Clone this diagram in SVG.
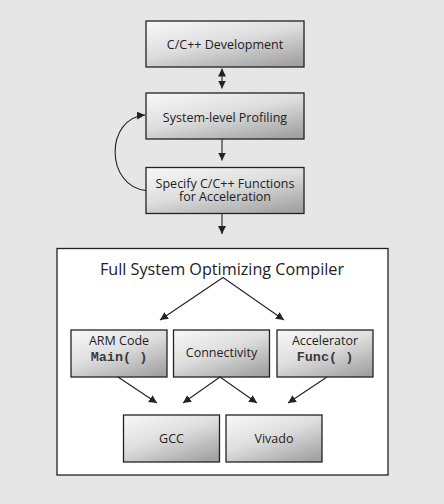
<svg xmlns="http://www.w3.org/2000/svg" width="444" height="504" viewBox="0 0 444 504">
<defs>
<linearGradient id="g" x1="0.15" y1="0" x2="0.85" y2="1">
<stop offset="0" stop-color="#f5f5f5"/>
<stop offset="0.45" stop-color="#dedede"/>
<stop offset="1" stop-color="#a2a2a2"/>
</linearGradient>
<marker id="ah" viewBox="0 0 10 10" refX="10" refY="5" markerWidth="8" markerHeight="8" markerUnits="userSpaceOnUse" orient="auto-start-reverse">
<path d="M0,0 L10,5 L0,10 z" fill="#222"/>
</marker>
</defs>
<style>
.box{fill:url(#g);stroke:#222;stroke-width:1.3}
.t{font-family:"Open Sans","Noto Sans",sans-serif;font-size:12.5px;fill:#222;text-anchor:middle}
.m{font-family:"Liberation Mono",monospace;font-size:13.5px;font-weight:bold;fill:#3a3a3a;text-anchor:middle}
.c{stroke:#222;stroke-width:1.1;fill:none;marker-end:url(#ah)}
</style>
<rect x="0" y="0" width="444" height="504" fill="#e6e6e6"/>
<g id="compiler">
<rect x="57" y="248.5" width="331" height="226.5" fill="#ffffff" stroke="#222" stroke-width="1.3"/>
<text class="t" x="222" y="275" style="font-size:16.2px">Full System Optimizing Compiler</text>
</g>
<g id="dev">
<rect class="box" x="146" y="21" width="158" height="46"/>
<text class="t" x="225" y="49">C/C++ Development</text>
</g>
<g id="profiling">
<rect class="box" x="146" y="93" width="158" height="46"/>
<text class="t" x="225" y="121.5">System-level Profiling</text>
</g>
<g id="specify">
<rect class="box" x="146" y="167.5" width="158" height="46"/>
<text class="t" x="225" y="188">Specify C/C++ Functions</text>
<text class="t" x="225" y="200.5">for Acceleration</text>
</g>
<g id="arm">
<rect class="box" x="71" y="330" width="96" height="47"/>
<text class="t" x="119" y="345">ARM Code</text>
<text class="m" x="119" y="361">Main( )</text>
</g>
<g id="connectivity">
<rect class="box" x="173.5" y="330" width="96" height="47"/>
<text class="t" x="221.5" y="357">Connectivity</text>
</g>
<g id="accel">
<rect class="box" x="277" y="330" width="96" height="47"/>
<text class="t" x="325" y="345">Accelerator</text>
<text class="m" x="325" y="361">Func( )</text>
</g>
<g id="gcc">
<rect class="box" x="123.5" y="415" width="96" height="47"/>
<text class="t" x="171.5" y="443">GCC</text>
</g>
<g id="vivado">
<rect class="box" x="226" y="415" width="96" height="47"/>
<text class="t" x="274" y="443">Vivado</text>
</g>
<g id="connectors">
<line class="c" x1="222" y1="78" x2="222" y2="68.5" />
<line class="c" x1="222" y1="78" x2="222" y2="88.5" />
<line class="c" x1="222" y1="139" x2="222" y2="160.5"/>
<line class="c" x1="222" y1="213.5" x2="222" y2="234"/>
<path class="c" d="M146,190.5 C105,186 105,118 145,115"/>
<line class="c" x1="223" y1="277.5" x2="160" y2="320"/>
<line class="c" x1="223" y1="277.5" x2="284" y2="320"/>
<line class="c" x1="118" y1="377" x2="157" y2="403"/>
<line class="c" x1="220" y1="377" x2="183" y2="403"/>
<line class="c" x1="220" y1="377" x2="257" y2="403"/>
<line class="c" x1="327" y1="377" x2="288" y2="403"/>
</g>
</svg>
